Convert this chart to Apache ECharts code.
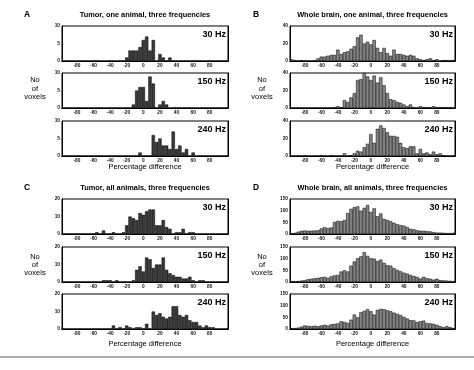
<!DOCTYPE html>
<html><head><meta charset="utf-8">
<script src="https://cdn.jsdelivr.net/npm/echarts@6/dist/echarts.min.js"></script>
<style>html,body{margin:0;padding:0;background:#fff}#c{width:474px;height:370px}</style>
</head><body><div id="c"></div>
<script>
// Bin centres (percentage difference) and labelled ticks
const binCenters = [-96,-92,-88,-84,-80,-76,-72,-68,-64,-60,-56,-52,-48,-44,-40,-36,-32,-28,-24,-20,
  -16,-12,-8,-4,0,4,8,12,16,20,24,28,32,36,40,44,48,52,56,60,64,68,72,76,80,84,88,92,96,100];
const xTickLabels = ['-80','-60','-40','-20','0','20','40','60','80'];

// A: Tumor, one animal
const tumorOne30 = [0,0,0,0,0,0,0,0,0,0, 0,0,0,0,0,0,0,0,0,1, 3,3,3,4,6,7,3,6,0,2, 1,0,1,0,0,0,0,0,0,0, 0,0,0,0,0,0,0,0,0,0];
const tumorOne150 = [0,0,0,0,0,0,0,0,0,0, 0,0,0,0,0,0,0,0,0,0, 0,1,5,6,6,2,9,7,0,1, 2,1,0,0,0,0,0,0,0,0, 0,0,0,0,0,0,0,0,0,0];
const tumorOne240 = [0,0,0,0,0,0,0,0,0,0, 0,0,0,0,0,0,0,0,0,0, 0,0,0,1,0,0,0,6,4,5, 3,3,2,7,2,3,1,2,0,1, 0,0,0,0,0,0,0,0,0,0];
// B: Whole brain, one animal
const brainOne30 = [2,1,0,1,0,0,0,1,3,5, 5,6,7,7,13,8,10,11,14,17, 27,30,20,22,19,24,15,10,15,9, 6,13,8,8,7,6,7,6,3,2, 1,2,3,1,2,0,1,1,1,1];
const brainOne150 = [0,0,0,0,0,0,0,0,0,0, 0,0,0,1,2,1,9,7,12,17, 32,33,40,36,32,37,29,35,26,17, 10,9,7,6,4,2,4,1,0,2, 1,1,1,2,1,1,1,1,1,0];
const brainOne240 = [0,0,0,0,1,0,0,0,0,1, 0,0,1,0,0,0,3,0,1,3, 6,5,10,14,25,15,31,35,32,27, 23,23,22,15,10,9,11,11,3,8, 3,4,2,5,2,3,1,0,0,0];
// C: Tumor, all animals
const tumorAll30 = [0,0,0,0,0,0,0,0,0,0, 1,0,2,0,0,1,0,0,1,5, 10,9,8,12,11,13,14,14,5,5, 8,4,3,0,1,1,3,0,1,1, 0,0,0,0,0,0,0,0,0,0];
const tumorAll150 = [0,0,0,0,0,0,0,0,0,0, 0,0,1,1,1,0,1,0,0,0, 0,1,7,9,6,14,13,8,10,10, 14,7,5,4,3,3,2,2,3,1, 0,1,1,0,0,0,0,0,0,0];
const tumorAll240 = [0,0,0,0,0,0,0,0,0,0, 0,0,0,0,0,2,0,1,0,2, 1,0,1,1,0,3,0,10,8,9, 7,6,7,13,13,8,7,8,5,4, 4,2,1,2,1,1,0,0,0,0];
// D: Whole brain, all animals
const brainAll30 = [3,5,10,14,15,14,14,15,16,24, 29,25,28,52,56,55,60,90,108,115, 118,100,112,124,95,110,76,88,65,60, 55,48,42,38,36,30,22,20,16,14, 14,12,11,8,6,6,5,4,4,5];
const brainAll150 = [2,3,4,6,8,12,14,16,18,20, 22,18,24,28,30,45,50,45,70,88, 102,110,128,112,102,100,90,96,82,72, 70,60,52,46,40,36,30,26,22,15, 22,16,14,10,14,8,7,6,5,4];
const brainAll240 = [3,4,6,10,15,13,12,14,12,15, 18,15,20,22,24,33,30,26,40,62, 50,72,78,85,76,62,82,86,85,80, 76,70,65,60,52,45,38,37,30,33, 36,25,24,22,18,12,8,12,8,4];

const panelTitles = ['Tumor, one animal, three frequencies','Whole brain, one animal, three frequencies',
  'Tumor, all animals, three frequencies','Whole brain, all animals, three frequencies'];
const panelLetters = ['A','B','C','D'];
const freqLabels = ['30 Hz','150 Hz','240 Hz'];
const yMaxes = [10, 40, 20, 150];
const yIntervals = [5, 20, 10, 50];
const groupData = [
  [tumorOne30, tumorOne150, tumorOne240],
  [brainOne30, brainOne150, brainOne240],
  [tumorAll30, tumorAll150, tumorAll240],
  [brainAll30, brainAll150, brainAll240]
];

// layout
const FONT = 'Liberation Sans, Arial, sans-serif';
const colLeft = [62, 290], colWidth = [166, 165];
const rowTops = [[26, 73, 121], [199, 247, 294]];
const plotH = 35;
const fills = ['#3a3a3a', '#858585', '#3a3a3a', '#858585'];

const grids = [], xAxes = [], yAxes = [], series = [], graphics = [];
const showTick = (i, v) => xTickLabels.includes(String(v));
const catData = binCenters.map(String);

groupData.forEach((g, gi) => {
  const col = gi % 2, row = Math.floor(gi / 2);
  g.forEach((vals, k) => {
    const idx = grids.length;
    const top = rowTops[row][k];
    grids.push({left: colLeft[col], top: top, width: colWidth[col], height: plotH,
      show: true, borderColor: '#000', borderWidth: 1, backgroundColor: '#fff'});
    const tickCfg = {inside: true, length: 2, alignWithLabel: true, interval: showTick, lineStyle: {color: '#000', width: 0.8}};
    xAxes.push({type: 'category', gridIndex: idx, data: catData, boundaryGap: true, position: 'bottom',
      axisLine: {show: true, lineStyle: {color: '#000', width: 1}}, axisTick: tickCfg,
      axisLabel: {interval: showTick, fontSize: 4.8, fontWeight: 'bold', color: '#111', margin: 2, fontFamily: FONT}});
    xAxes.push({type: 'category', gridIndex: idx, data: catData, boundaryGap: true, position: 'top',
      axisLine: {show: true, lineStyle: {color: '#000', width: 1}}, axisTick: tickCfg, axisLabel: {show: false}});
    const yTick = {inside: true, length: 2, lineStyle: {color: '#000', width: 0.8}};
    yAxes.push({type: 'value', gridIndex: idx, min: 0, max: yMaxes[gi], interval: yIntervals[gi], position: 'left',
      axisLine: {show: true, lineStyle: {color: '#000', width: 1}}, axisTick: yTick, splitLine: {show: false},
      axisLabel: {fontSize: 4.8, fontWeight: 'bold', color: '#111', margin: 2, fontFamily: FONT}});
    yAxes.push({type: 'value', gridIndex: idx, min: 0, max: yMaxes[gi], interval: yIntervals[gi], position: 'right',
      axisLine: {show: true, lineStyle: {color: '#000', width: 1}}, axisTick: yTick, splitLine: {show: false},
      axisLabel: {show: false}});
    series.push({type: 'bar', xAxisIndex: 2 * idx, yAxisIndex: 2 * idx, data: vals, barCategoryGap: '0%',
      itemStyle: {color: fills[gi], borderColor: '#000', borderWidth: 0.5}, silent: true, animation: false});
    graphics.push({type: 'text', x: colLeft[col] + colWidth[col] - 2, y: top + 9,
      style: {text: freqLabels[k], font: 'bold 9px ' + FONT, fill: '#000', textAlign: 'right', textVerticalAlign: 'middle'}});
  });
  const cx = colLeft[col] + colWidth[col] / 2;
  const ty = row === 0 ? 15 : 188;
  graphics.push({type: 'text', x: cx, y: ty,
    style: {text: panelTitles[gi], font: 'bold 7.4px ' + FONT, fill: '#000', textAlign: 'center', textVerticalAlign: 'middle'}});
  graphics.push({type: 'text', x: col === 0 ? 27 : 256, y: ty,
    style: {text: panelLetters[gi], font: 'bold 8.5px ' + FONT, fill: '#000', textAlign: 'center', textVerticalAlign: 'middle'}});
  const lx = col === 0 ? 35 : 262;
  const ly = row === 0 ? [80, 88.5, 97] : [257, 265, 273];
  ['No', 'of', 'voxels'].forEach((t, j) => graphics.push({type: 'text', x: lx, y: ly[j],
    style: {text: t, font: '7.5px ' + FONT, fill: '#000', textAlign: 'center', textVerticalAlign: 'middle'}}));
  graphics.push({type: 'text', x: cx, y: row === 0 ? 167 : 344,
    style: {text: 'Percentage difference', font: '7.5px ' + FONT, fill: '#000', textAlign: 'center', textVerticalAlign: 'middle'}});
});
graphics.push({type: 'line', shape: {x1: 0, y1: 357, x2: 474, y2: 357}, style: {stroke: '#555', lineWidth: 1.2}});

const chart = echarts.init(document.getElementById('c'), null, {renderer: 'canvas'});
chart.setOption({
  animation: false,
  backgroundColor: '#fff',
  grid: grids, xAxis: xAxes, yAxis: yAxes, series: series,
  graphic: graphics
});
</script></body></html>
